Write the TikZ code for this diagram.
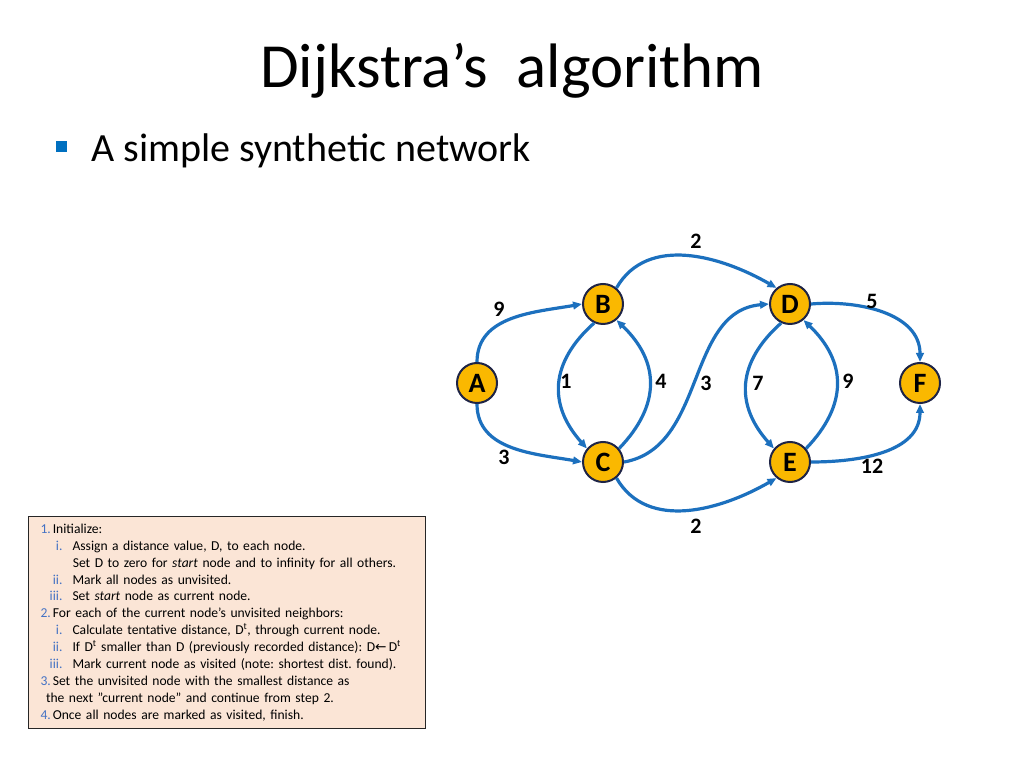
\documentclass[tikz,border=0pt]{standalone}
\usepackage{fontspec}
\setmainfont{Carlito}
\newfontfamily\arrowfont{DejaVu Sans}
\usetikzlibrary{arrows.meta}

\definecolor{edgeblue}{RGB}{28,112,190}
\definecolor{nodegold}{RGB}{250,184,0}
\definecolor{nodeline}{RGB}{30,36,70}
\definecolor{numblue}{RGB}{68,114,196}
\definecolor{bulletblue}{RGB}{0,112,192}
\definecolor{notefill}{RGB}{251,229,214}

\newcommand{\stepnum}[1]{\makebox[12.3pt][l]{\textcolor{numblue}{#1}}}
\newcommand{\subnum}[1]{\hspace*{6pt}\makebox[16pt][r]{\textcolor{numblue}{#1}}\hspace*{10pt}}

\tikzset{
  vertex/.style={circle, draw=nodeline, line width=2pt, fill=nodegold,
    minimum size=40pt, inner sep=0pt, font=\fontsize{28}{28}\selectfont\bfseries},
  link/.style={draw=edgeblue, line width=3.2pt, -{Triangle[length=9pt,width=7.5pt]}},
  weight/.style={font=\fontsize{22}{22}\selectfont\bfseries},
}

\begin{document}
\begin{tikzpicture}[x=1pt,y=1pt]
\useasboundingbox[fill=white] (0,0) rectangle (1024,768);

% heading
\node[anchor=base, inner sep=0pt, font=\fontsize{62.8}{62.8}\selectfont] (title) at (512,680) {Dijkstra’s\ \ algorithm};
\node[fill=bulletblue, minimum size=11pt, inner sep=0pt] (bullet) at (61.5,621) {};
\node[anchor=base west, inner sep=0pt, font=\fontsize{40}{40}\selectfont] (subtitle) at (91,606) {A simple synthetic network};

% network
\node[vertex] (A) at (477,385) {A};
\node[vertex] (B) at (603,464) {B};
\node[vertex] (C) at (603,306) {C};
\node[vertex] (D) at (790,464) {D};
\node[vertex] (E) at (790,306) {E};
\node[vertex] (F) at (920,385) {F};

\draw[link] (A.north) to[out=90,in=190] (B.west);
\draw[link] (A.south) to[out=-90,in=170] (C.west);
\draw[link] (B.245) to[bend right=45,looseness=1.2] (C.140);
\draw[link] (C.40) to[bend right=45,looseness=1.2] (B.-50);
\draw[link] (B.50) to[out=60,in=150] (D.130);
\draw[link] (C.east) to[out=10,in=185] (D.west);
\draw[link] (C.-50) to[out=-60,in=-150] (E.-130);
\draw[link] (D.245) to[bend right=45,looseness=1.2] (E.140);
\draw[link] (E.40) to[bend right=45,looseness=1.2] (D.-50);
\draw[link] (D.east) to[out=5,in=90] (F.north);
\draw[link] (E.east) to[out=0,in=-90] (F.south);

\node[weight] (wAB) at (499,459) {9};
\node[weight] (wAC) at (504,311) {3};
\node[weight] (wBC) at (566,387) {1};
\node[weight] (wCB) at (661,387) {4};
\node[weight] (wBD) at (696,527) {2};
\node[weight] (wCD) at (706,385) {3};
\node[weight] (wCE) at (696,242) {2};
\node[weight] (wDE) at (758,385) {7};
\node[weight] (wED) at (848,387) {9};
\node[weight] (wDF) at (872,467) {5};
\node[weight] (wEF) at (872,302) {12};

% algorithm steps
\node[draw=black!85, line width=1pt, fill=notefill, anchor=north west,
  text width=373pt, inner xsep=12pt, minimum height=212pt, align=left,
  font=\fontsize{13.6}{16.9}\selectfont\frenchspacing] (steps) at (28,252) {%
\stepnum{1.}Initialize:\\
\subnum{i.}Assign a distance value, D, to each node.\\
\hspace*{32.3pt}Set D to zero for \textit{start} node and to infinity for all others.\\
\subnum{ii.}Mark all nodes as unvisited.\\
\subnum{iii.}Set \textit{start} node as current node.\\
\stepnum{2.}For each of the current node’s unvisited neighbors:\\
\subnum{i.}Calculate tentative distance, D\textsuperscript{t}, through current node.\\
\subnum{ii.}If D\textsuperscript{t}\ smaller than D (previously recorded distance): D{\arrowfont ←}\,D\textsuperscript{t}\\
\subnum{iii.}Mark current node as visited (note: shortest dist. found).\\
\stepnum{3.}Set the unvisited node with the smallest distance as\\
\hspace*{5.5pt}the next \symbol{34}current node\symbol{34} and continue from step 2.\\
\stepnum{4.}Once all nodes are marked as visited, finish.};

\end{tikzpicture}
\end{document}
